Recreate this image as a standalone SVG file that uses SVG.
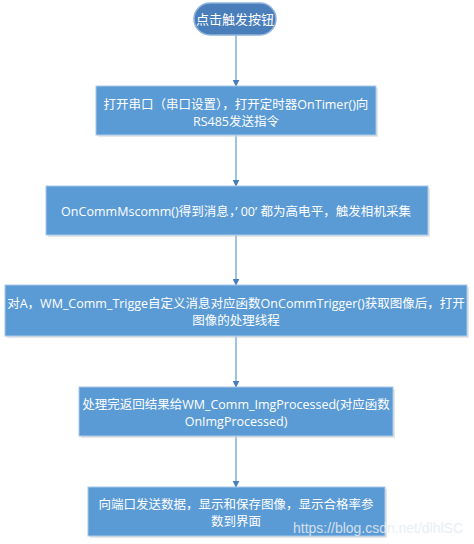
<svg xmlns="http://www.w3.org/2000/svg" width="474" height="544" viewBox="0 0 474 544">
<defs>
<style>
.box{fill:#5b9bd5;stroke:#a9c8ea;stroke-width:1}
.shadow{fill:#d0d0d0;opacity:0.5}
.t{font-family:"Open Sans","Noto Sans CJK SC",sans-serif;font-size:12.5px;fill:#ffffff;text-anchor:middle}
.edge{stroke:#5b9bd5;stroke-width:1.2;fill:none;marker-end:url(#arr)}
</style>
<marker id="arr" viewBox="0 0 10 10" refX="9" refY="5" markerWidth="7" markerHeight="7" markerUnits="userSpaceOnUse" orient="auto">
<path d="M0,0 L10,5 L0,10 z" fill="#4a7ebb"/>
</marker>
</defs>
<rect width="474" height="544" fill="#ffffff"/>
<g id="connectors">
<line class="edge" x1="236" y1="35" x2="236" y2="86"/>
<line class="edge" x1="236" y1="135" x2="236" y2="186"/>
<line class="edge" x1="236" y1="235" x2="236" y2="285"/>
<line class="edge" x1="236" y1="336" x2="236" y2="387"/>
<line class="edge" x1="236" y1="436" x2="236" y2="487"/>
</g>
<g id="start">
<rect x="194" y="3" width="82" height="32" rx="16" fill="#4a7ebb" stroke="#8fb4de" stroke-width="1.5"/>
<text class="t" x="235" y="24" style="font-size:13px">点击触发按钮</text>
</g>
<g id="n1">
<rect class="shadow" x="98" y="88" width="280" height="49"/>
<rect class="box" x="96" y="86" width="280" height="49"/>
<text class="t" x="236" y="109">打开串口（串口设置），打开定时器OnTimer()向</text>
<text class="t" x="236" y="126">RS485发送指令</text>
</g>
<g id="n2">
<rect class="shadow" x="48" y="188" width="382" height="49"/>
<rect class="box" x="46" y="186" width="382" height="49"/>
<text class="t" x="236" y="216" textLength="350" lengthAdjust="spacing">OnCommMscomm()得到消息，’ 00’ 都为高电平，触发相机采集</text>
</g>
<g id="n3">
<rect class="shadow" x="7" y="287" width="462" height="51"/>
<rect class="box" x="5" y="285" width="462" height="51"/>
<text class="t" x="236" y="308">对A，WM_Comm_Trigge自定义消息对应函数OnCommTrigger()获取图像后，打开</text>
<text class="t" x="236" y="325">图像的处理线程</text>
</g>
<g id="n4">
<rect class="shadow" x="81" y="389" width="314" height="49"/>
<rect class="box" x="79" y="387" width="314" height="49"/>
<text class="t" x="236" y="409">处理完返回结果给WM_Comm_ImgProcessed(对应函数</text>
<text class="t" x="236" y="426">OnImgProcessed)</text>
</g>
<g id="n5">
<rect class="shadow" x="90" y="489" width="297" height="49"/>
<rect class="box" x="88" y="487" width="297" height="49"/>
<text class="t" x="236" y="509">向端口发送数据，显示和保存图像，显示合格率参</text>
<text class="t" x="236" y="526">数到界面</text>
</g>
<text x="293" y="533" textLength="170" lengthAdjust="spacingAndGlyphs" style="font-family:'Liberation Sans',Arial,sans-serif;font-size:14.5px;fill:#e6ecf3;opacity:0.85">https://blog.csdn.net/dlhlSC</text>
</svg>
